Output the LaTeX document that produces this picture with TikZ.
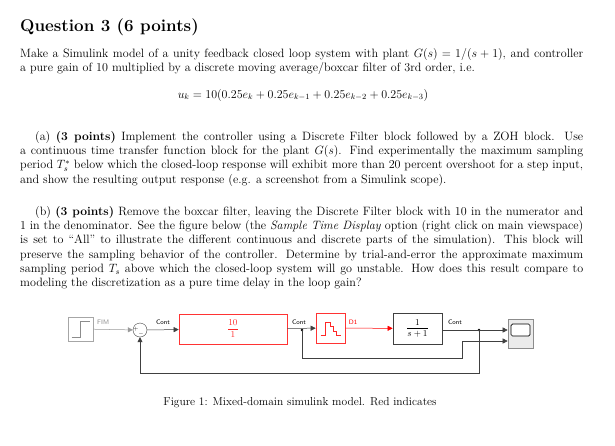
\documentclass[tikz,border=0pt]{standalone}
\usepackage{amsmath}
\usetikzlibrary{arrows.meta,calc}
\begin{document}
\begin{tikzpicture}[x=1pt,y=-1pt,
  para/.style={anchor=north west,text width=563pt,align=justify,inner sep=0pt,font=\fontsize{12.1}{14.3}\selectfont},
  blk/.style={draw,fill=white,inner sep=0pt,line width=0.6pt},
  sig/.style={draw=black!75,line width=0.5pt,-{Triangle[length=5pt,width=5pt]}},
  lbl/.style={font=\sffamily\fontsize{6.5}{7}\selectfont,inner sep=1pt}]
\path[use as bounding box] (0,0) rectangle (615,445);
\node[anchor=base west,inner sep=0pt,font=\fontsize{17}{20}\selectfont\bfseries] (title) at (20,31) {Question 3 (6 points)};
\node[para] (p1) at (20,48) {Make a Simulink model of a unity feedback closed loop system with plant $G(s)=1/(s+1)$, and controller\linebreak a pure gain of 10 multiplied by a discrete moving average/boxcar filter of 3rd order, i.e.};
\node[inner sep=0pt,font=\fontsize{12.1}{14}\selectfont] (eq) at (303,95) {$u_k=10(0.25e_k+0.25e_{k-1}+0.25e_{k-2}+0.25e_{k-3})$};
\node[para] (pa) at (20,131) {\hspace*{15pt}(a) \textbf{(3 points)} Implement the controller using a Discrete Filter block followed by a ZOH block. Use\linebreak a continuous time transfer function block for the plant $G(s)$. Find experimentally the maximum sampling\linebreak period $T_s^*$ below which the closed-loop response will exhibit more than 20 percent overshoot for a step input,\linebreak and show the resulting output response (e.g. a screenshot from a Simulink scope).};
\node[para] (pb) at (20,206) {\hspace*{15pt}(b) \textbf{(3 points)} Remove the boxcar filter, leaving the Discrete Filter block with 10 in the numerator and\linebreak 1 in the denominator. See the figure below (the \textit{Sample Time Display} option (right click on main viewspace)\linebreak is set to ``All'' to illustrate the different continuous and discrete parts of the simulation). This block will\linebreak preserve the sampling behavior of the controller. Determine by trial-and-error the approximate maximum\linebreak sampling period $T_s$ above which the closed-loop system will go unstable. How does this result compare to\linebreak modeling the discretization as a pure time delay in the loop gain?};
% diagram
\node[blk,draw=black!35,minimum width=25pt,minimum height=24pt] (step) at (80.5,329) {};
\draw[black!45,line width=0.6pt] ($(step.center)+(-9,8)$) -- ++(9,0) -- ++(0,-16) -- ++(9,0);
\node[draw=black!75,circle,minimum size=14pt,inner sep=0pt,fill=white] (sum) at (140,330) {};
\node[font=\fontsize{5}{5}\selectfont,inner sep=0pt] (pl) at (136,329.5) {$+$};
\node[font=\fontsize{5}{5}\selectfont,inner sep=0pt] (mi) at (141,334.5) {$-$};
\node[blk,draw=red!80,minimum width=108pt,minimum height=30pt,text=red!85,font=\fontsize{9}{10}\selectfont] (gain) at (233,329) {$\dfrac{10}{1}$};
\node[blk,draw=red!80,minimum width=29pt,minimum height=30pt] (zoh) at (330.5,328) {};
\draw[red!85,line width=0.6pt] ($(zoh.center)+(-10,7)$) -- ++(5,0) -- ++(0,-13) -- ++(5,0) -- ++(0,4) -- ++(3,0) -- ++(0,5) -- ++(3,0) -- ++(0,4) -- ++(4,0);
\node[blk,draw=black!75,minimum width=49pt,minimum height=31pt,font=\fontsize{9}{10}\selectfont] (plant) at (417.5,328.5) {$\dfrac{1}{s+1}$};
\node[blk,draw=black!45,fill=black!8,minimum width=25pt,minimum height=29pt] (scope) at (520.5,333.5) {};
\node[draw=black,rounded corners=1.5pt,line width=0.7pt,minimum width=19pt,minimum height=12pt,inner sep=0pt,fill=white] (scr) at (520.5,330) {};
\coordinate (j1) at (302,330);
\coordinate (j2) at (479,330);
\fill (j1) circle (1.3pt) (j2) circle (1.3pt);
\draw[sig,draw=black!40,black!40] (step) -- (sum);
\draw[sig] (sum) -- (gain);
\draw[sig] (gain) -- (zoh);
\draw[sig,draw=red!85,red] (zoh) -- (plant);
\draw[sig] (plant.east|-j2) -- (scope.west|-j2);
\draw[sig] (j1) -- ++(0,28) -| (462,341) -- (scope.west|-0,341);
\draw[sig] (j2) -- ++(0,43) -| (sum.south);
\node[lbl,text=black!45,anchor=west] (fim) at (96,322) {FIM};
\node[lbl] (c1) at (163,322) {Cont};
\node[lbl] (c2) at (299,322) {Cont};
\node[lbl,text=red] (d1) at (353,322) {D1};
\node[lbl] (c3) at (455,322) {Cont};
\node[inner sep=0pt,font=\fontsize{11.5}{13}\selectfont] (cap) at (300,403) {Figure 1: Mixed-domain simulink model. Red indicates};
\end{tikzpicture}
\end{document}
